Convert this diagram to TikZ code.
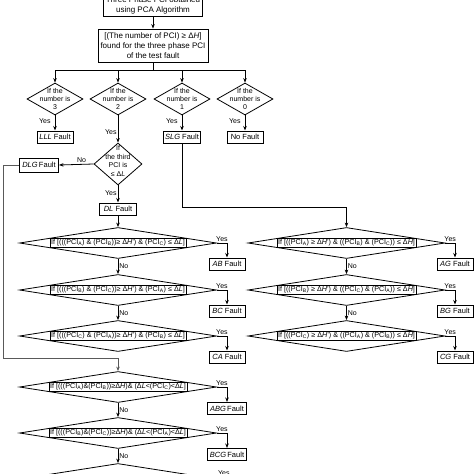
\documentclass[tikz,border=0pt]{standalone}
\usepackage{fontspec}
\setmainfont{Liberation Sans}
\usetikzlibrary{arrows.meta,positioning,calc,shapes.geometric}
\tikzset{
  fcBox/.style={draw, line width=0.8pt, fill=white, inner sep=2pt,
    font=\fontsize{8}{10}\selectfont, align=center},
  fcFault/.style={draw, line width=1pt, fill=white, inner xsep=2pt, inner ysep=0pt,
    minimum width=36pt, minimum height=12pt, font=\fontsize{7.5}{9}\selectfont},
  fcNum/.style={draw, diamond, line width=0.8pt, inner sep=0pt,
    minimum width=56pt, minimum height=32pt},
  fcLong/.style={draw, diamond, line width=0.8pt, inner sep=0pt,
    minimum width=197pt, minimum height=31pt},
  %% Text set over a diamond
  fcTxt/.style={font=\fontsize{7}{8}\selectfont, align=center, inner sep=0pt},
  fcCond/.style={draw, line width=0.4pt, inner sep=1pt, font=\fontsize{7.2}{8}\selectfont},
  fcLbl/.style={font=\fontsize{7}{8}\selectfont, inner sep=1pt},
  %% Connectors
  fcflow/.style={-{Stealth[length=4.5pt,width=3.5pt]}, line width=0.8pt},
  fcline/.style={line width=0.8pt},
}
\newcommand{\pci}[1]{PCI\textsubscript{#1}}
\newcommand{\dlH}{Δ\textit{H}}
\newcommand{\dlL}{Δ\textit{L}}

\begin{document}
\begin{tikzpicture}[x=1pt, y=-1pt]
\useasboundingbox (0,0) rectangle (474,474);
\clip (0,0) rectangle (474,474);

%% Start and count
\node[fcBox, minimum width=99pt, minimum height=22pt] (obt) at (153,5) {Three Phase PCI obtained\\using PCA Algorithm};
\node[fcBox, minimum width=110pt, minimum height=33pt] (cnt) at (153,45.5) {[(The number of PCI) ≥ \dlH]\\found for the three phase PCI\\of the test fault};
\draw[fcflow] (obt) -- (cnt);

%% Number of PCI
\foreach \n/\x in {3/55, 2/118, 1/182, 0/245} {
  \node[fcNum] (q\n) at (\x,99) {};
  \node[fcTxt] (qt\n) at (q\n) {If the\\number is\\\n};
}
\draw[fcline] (cnt.south) -- ++(0,8) coordinate (spl);
\draw[fcline] (spl -| q3) -- (spl -| q0);
\foreach \n in {3,2,1,0}
  \draw[fcflow] (spl -| q\n) -- (q\n.north);

\node[fcFault] (lll) at (55,137) {\textit{LLL} Fault};
\node[fcFault] (slg) at (182,137) {\textit{SLG} Fault};
\node[fcFault] (nof) at (245,137) {No Fault};
\foreach \n/\f in {3/lll, 1/slg, 0/nof}
  \draw[fcflow] (q\n.south) -- node[fcLbl, left=3pt, pos=0.35]{Yes} (\f.north);

%% Two phase PCI
\node[fcNum, minimum width=48pt, minimum height=42pt] (tpc) at (118,164) {};
\node[fcTxt, font=\fontsize{7}{8.5}\selectfont] (tpct) at (118,161) {If\\the third\\PCI is\\≤ \dlL};
\draw[fcflow] (q2.south) -- node[fcLbl, left, pos=0.6]{Yes} (tpc.north);
\node[fcFault, minimum width=39pt, minimum height=14pt] (dlg) at (39,165) {\textit{DLG}\,Fault};
\draw[fcflow] (tpc.west) -- node[fcLbl, above, pos=0.35]{No} (dlg.east);
\node[fcFault, minimum width=37pt] (dl) at (118,209) {\textit{DL} Fault};
\draw[fcflow] (tpc.south) -- node[fcLbl, left, pos=0.45]{Yes} (dl.north);

%% DL checks
\foreach \k/\y/\a/\b/\c/\F in {ab/243/A/B/C/AB, bc/290/B/C/A/BC, ca/336/C/A/B/CA} {
  \node[fcLong] (\k) at (118,\y) {};
  \node[fcCond] (t\k) at (\k) {If [(((\pci{\a}) \& (\pci{\b}))≥ \dlH') \& (\pci{\c}) ≤ \dlL]};
  \node[fcFault] (f\k) at (227,\y+21) {\textit{\F} Fault};
  \draw[fcflow] (\k.east) -| node[fcLbl, above, pos=0.25]{Yes} (f\k.north);
}
\draw[fcflow] (dl.south) -- (ab.north);
\draw[fcflow] (ab.south) -- node[fcLbl, right]{No} (bc.north);
\draw[fcflow] (bc.south) -- node[fcLbl, right]{No} (ca.north);

%% SLG checks
\foreach \k/\y/\a/\b/\c/\F in {ag/243/A/B/C/AG, bg/290/B/C/A/BG, cg/336/C/A/B/CG} {
  \node[fcLong] (\k) at (346.5,\y) {};
  \node[fcCond] (t\k) at (\k) {If [((\pci{\a}) ≥ \dlH') \& ((\pci{\b}) \& (\pci{\c})) ≤ \dlH]};
  \node[fcFault] (f\k) at (455,\y+21) {\textit{\F} Fault};
  \draw[fcflow] (\k.east) -| node[fcLbl, above, pos=0.25]{Yes} (f\k.north);
}
\coordinate (slgturn) at (182,207);
\draw[fcflow] (slg.south) -- (slgturn) -| (ag.north);
\draw[fcflow] (ag.south) -- node[fcLbl, right]{No} (bg.north);
\draw[fcflow] (bg.south) -- node[fcLbl, right]{No} (cg.north);

%% DLG checks
\foreach \k/\y/\a/\b/\c/\F in {abg/387/A/B/C/ABG, bcg/433/B/C/A/BCG} {
  \node[fcLong] (\k) at (118,\y) {};
  \node[fcCond] (t\k) at (\k) {If [(((\pci{\a})\&(\pci{\b}))≥\dlH)\& (\dlL<(\pci{\c})<\dlL]};
  \node[fcFault, minimum width=39pt] (f\k) at (227,\y+21.5) {\textit{\F}\,Fault};
  \draw[fcflow] (\k.east) -| node[fcLbl, above, pos=0.25]{Yes} (f\k.north);
}
\node[fcLong] (cag) at (118,479) {};
\node[fcLbl, above right, yshift=2pt] (ycag) at (cag.east) {Yes};
\draw[fcflow, draw=black!65] (dlg.west) -| (3,358) -| (abg.north);
\draw[fcflow] (abg.south) -- node[fcLbl, right]{No} (bcg.north);
\draw[fcflow] (bcg.south) -- node[fcLbl, right]{No} (cag.north);

\end{tikzpicture}
\end{document}
